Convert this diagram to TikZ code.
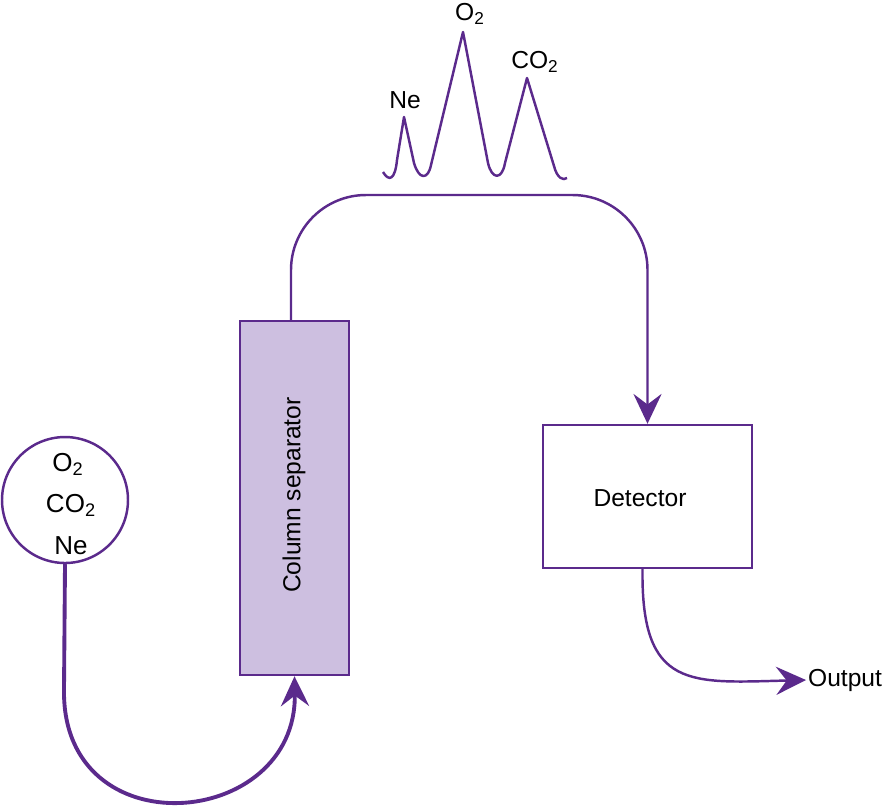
\documentclass[tikz,border=0pt]{standalone}
\usepackage{fontspec}
\setmainfont{Liberation Sans}
\usetikzlibrary{arrows.meta}

\definecolor{flowpurple}{HTML}{5B2A8C}
\definecolor{columnfill}{HTML}{CDBFE0}

\begin{document}
\begin{tikzpicture}[x=0.02cm,y=-0.02cm]

\tikzset{
  flow/.style={draw=flowpurple, line width=1.4pt},
  thick flow/.style={draw=flowpurple, line width=2.2pt},
  flow tip/.style={-{Stealth[length=17pt,width=16pt,inset=6pt]}},
  unit box/.style={flow, inner sep=0pt},
  gas label/.style={font=\fontsize{14}{17}\selectfont, inner sep=1pt},
  sample label/.style={font=\fontsize{14.8}{18}\selectfont, inner sep=1pt},
}

\useasboundingbox (0,0) rectangle (884,806);

% Sample
\node[flow, circle, minimum size=2.52cm] (sample) at (65,500) {};
\node[sample label] (s1) at (68,464) {O\textsubscript{2}};
\node[sample label] (s2) at (71,505) {CO\textsubscript{2}};
\node[sample label] (s3) at (71,546) {Ne};

% Column separator
\node[unit box, fill=columnfill, minimum width=2.18cm, minimum height=7.08cm] (column) at (294.5,498) {};
\node[gas label, rotate=90] (columntext) at (294,495) {Column separator};

% Detector
\node[unit box, minimum width=4.18cm, minimum height=2.86cm] (detector) at (647.5,496.5) {};
\node[gas label] (detectortext) at (640,498) {Detector};

% Output
\node[gas label, anchor=west] (output) at (806,680) {Output};

% Chromatogram
\draw[flow, line join=round]
  (383,172) .. controls (389,182) and (395,180) .. (397,160) -- (404,117)
  -- (414,163) .. controls (419,180) and (428,180) .. (431,165) -- (463,32)
  -- (488,163) .. controls (492,180) and (502,180) .. (505,163) -- (527,78)
  -- (554,166) .. controls (557,178) and (563,181) .. (567,178);
\node[gas label] (ne) at (405,100) {Ne};
\node[gas label] (o2) at (470,14) {O\textsubscript{2}};
\node[gas label] (co2) at (535,62) {CO\textsubscript{2}};

% Connections
\coordinate (bend) at (64,690);
\coordinate (riser) at (291,321);
\draw[thick flow, flow tip] (sample.south) -- (bend)
  .. controls (62,850) and (297,830) .. (column.south);
\draw[flow, flow tip, rounded corners=1.5cm]
  (riser) |- (470,195) -| (detector.north);
\draw[flow, flow tip] (detector.south) ++(-5,0)
  .. controls (641,690) and (690,683) .. (output.west);

\end{tikzpicture}
\end{document}
